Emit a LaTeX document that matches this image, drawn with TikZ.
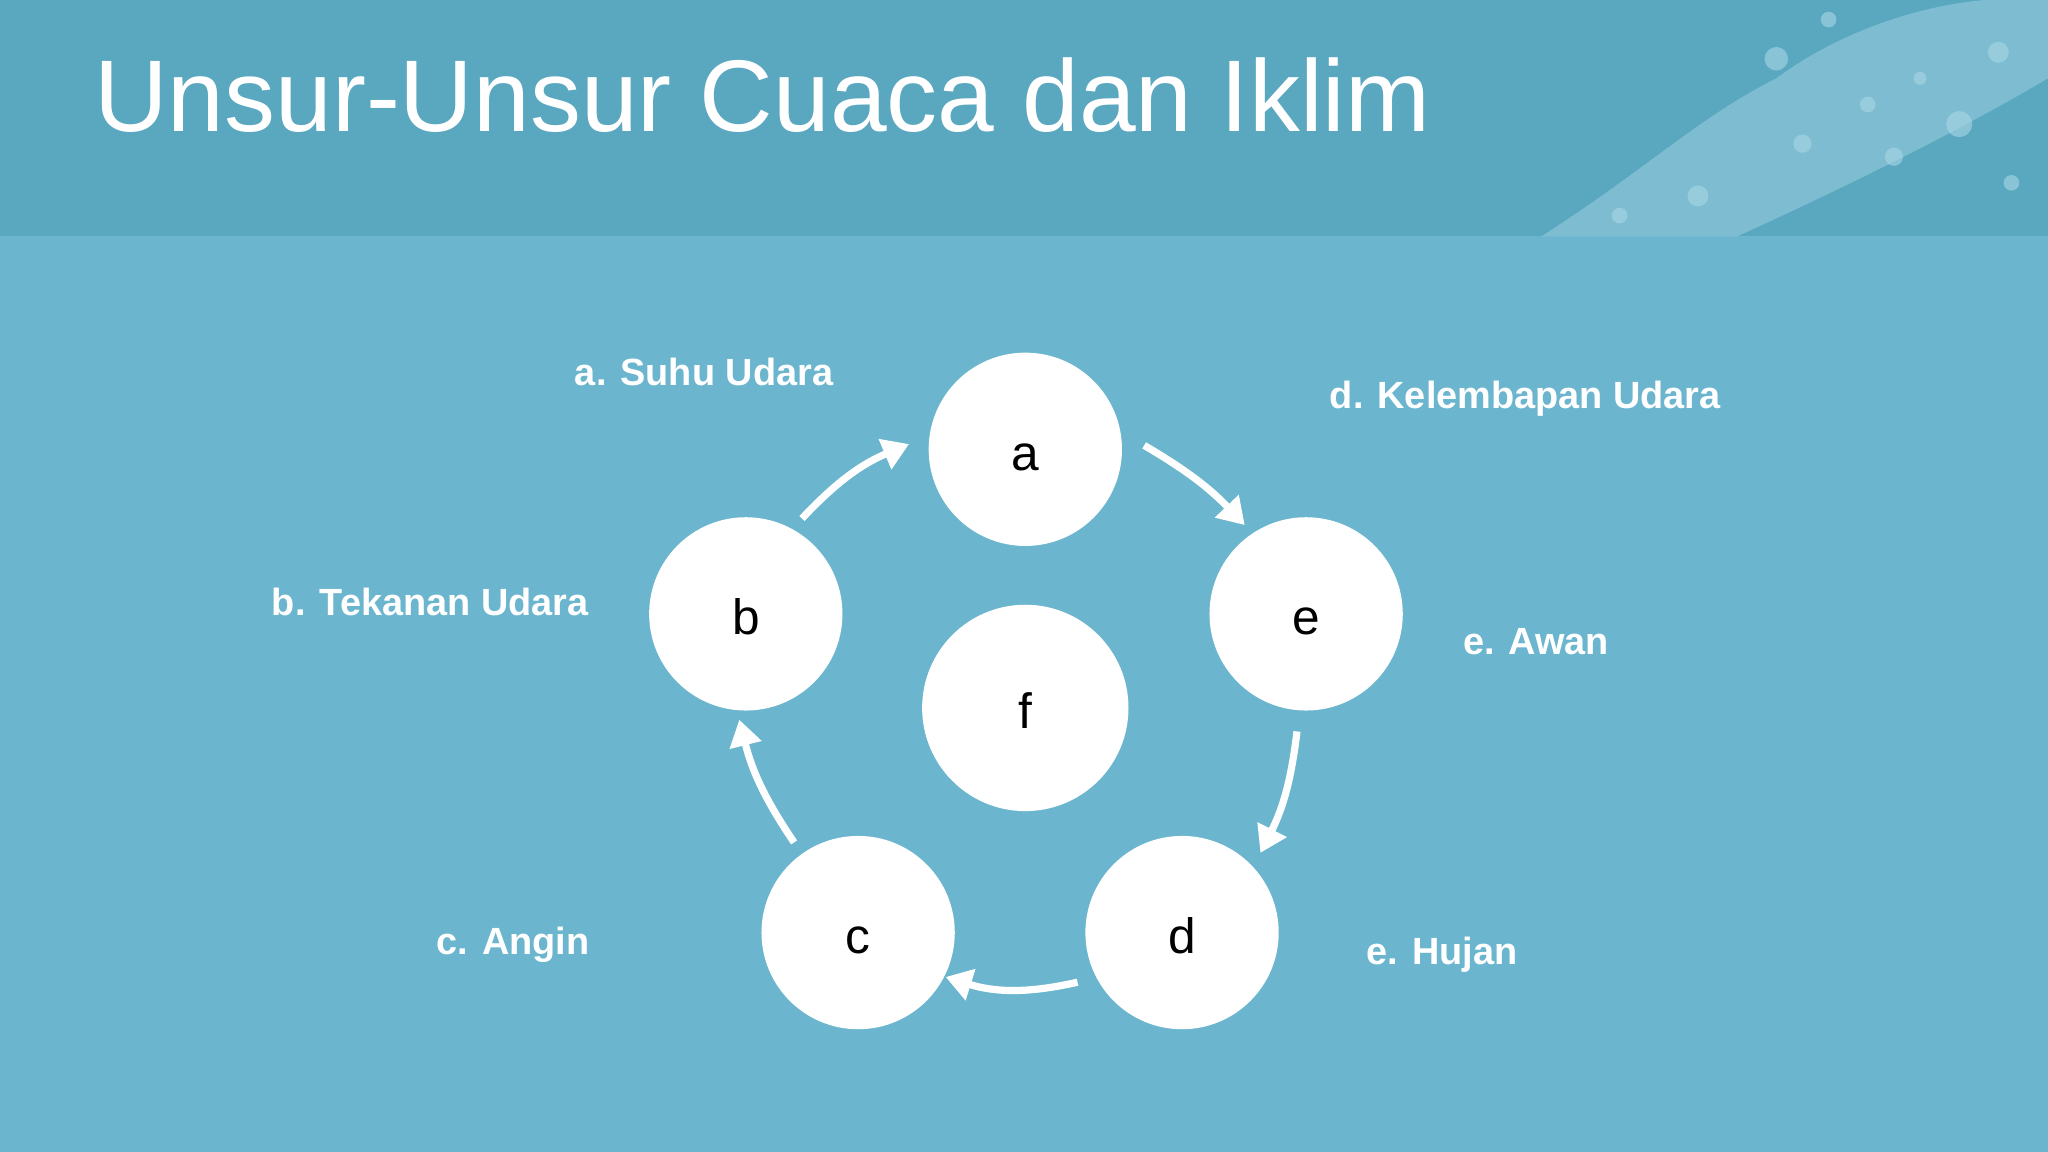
\documentclass[tikz,border=0pt]{standalone}
\usepackage{fontspec}
\setmainfont{Liberation Sans}
\usetikzlibrary{arrows.meta}
\definecolor{hdr}{HTML}{5AA7C0}
\definecolor{bg}{HTML}{6BB6CE}
\definecolor{splash}{HTML}{A9D7E6}
\begin{document}
\begin{tikzpicture}[x=1pt,y=-1pt,
  circ/.style={circle,fill=white,minimum size=148pt,inner sep=0pt,font=\fontsize{38}{42}\selectfont,text=black,text height=32pt,text depth=0pt},
  lbl/.style={text=white,font=\bfseries\fontsize{29}{32}\selectfont,inner sep=0pt},
  arr/.style={white,line width=5.5pt,-{Triangle[width=24pt,length=20pt]}}]
\useasboundingbox (0,0) rectangle (1568,882);
\fill[bg] (0,0) rectangle (1568,882);
\fill[hdr] (0,0) rectangle (1568,181);
\begin{scope}
\clip (1150,0) rectangle (1568,181);
\fill[splash,opacity=0.45] (1180,181) .. controls (1260,130) and (1300,90) .. (1360,60) .. controls (1400,30) and (1460,5) .. (1520,0) -- (1568,0) -- (1568,60) .. controls (1500,100) and (1420,140) .. (1330,181) -- cycle;
\foreach \x/\y/\r in {1360/45/9,1450/120/7,1500/95/10,1540/140/6,1300/150/8,1400/15/6,1530/40/8,1470/60/5,1240/165/6,1380/110/7,1430/80/6}
  \fill[splash,opacity=0.6] (\x,\y) circle (\r);
\end{scope}
\node[anchor=base west,text=white,font=\fontsize{78}{86}\selectfont,inner sep=0pt] (title) at (72,101) {Unsur-Unsur Cuaca dan Iklim};
\node[circ] (a) at (785,344) {a};
\node[circ] (b) at (571,470) {b};
\node[circ] (e) at (1000,470) {e};
\node[circ] (c) at (657,714) {c};
\node[circ] (d) at (905,714) {d};
\node[circ,minimum size=158pt] (f) at (785,542) {f};
\node[lbl,anchor=west] (la) at (440,285) {a. Suhu Udara};
\node[lbl,anchor=west] (ld) at (1018,305) {d. Kelembapan Udara};
\node[lbl,anchor=west] (lb) at (208,461) {b. Tekanan Udara};
\node[lbl,anchor=west] (le) at (1120,491) {e. Awan};
\node[lbl,anchor=west] (lc) at (334,723) {c. Angin};
\node[lbl,anchor=west] (lh) at (1046,731) {e. Hujan};
\coordinate (ba1) at (614,397); \coordinate (ba2) at (696,340);
\coordinate (ae1) at (876,341); \coordinate (ae2) at (953,402);
\coordinate (ed1) at (993,560); \coordinate (ed2) at (965,653);
\coordinate (dc1) at (825,752); \coordinate (dc2) at (724,748);
\coordinate (cb1) at (608,645); \coordinate (cb2) at (566,551);
\draw[arr] (ba1) to[bend left=12] (ba2);
\draw[arr] (ae1) to[bend left=8] (ae2);
\draw[arr] (ed1) to[bend left=10] (ed2);
\draw[arr] (dc1) to[bend left=15] (dc2);
\draw[arr] (cb1) to[bend left=10] (cb2);
\end{tikzpicture}
\end{document}
